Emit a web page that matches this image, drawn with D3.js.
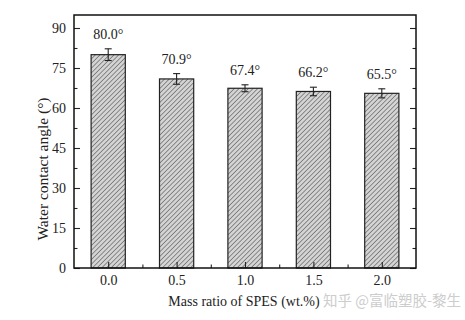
<!DOCTYPE html>
<html>
<head>
<meta charset="utf-8">
<script src="https://cdn.jsdelivr.net/npm/d3@7"></script>
<style>
  body { margin: 0; background: #fff; }
  svg { font-family: "Liberation Serif", "Times New Roman", serif; }
</style>
</head>
<body>
<div id="chart"></div>
<script>
const ratios = [0.0, 0.5, 1.0, 1.5, 2.0]
const angles = [80.0, 70.9, 67.4, 66.2, 65.5]
const errors = [2.2, 2.0, 1.3, 1.6, 1.7]
const labels = ["80.0°", "70.9°", "67.4°", "66.2°", "65.5°"]
const yTicks = [0, 15, 30, 45, 60, 75, 90]

const W = 465, H = 320
const margin = { top: 15, right: 49, bottom: 52, left: 74 }
const w = W - margin.left - margin.right
const h = H - margin.top - margin.bottom

const svg = d3.select("#chart").append("svg")
  .attr("width", W).attr("height", H)

// hatch pattern
const defs = svg.append("defs")
const pat = defs.append("pattern")
  .attr("id", "hatch")
  .attr("patternUnits", "userSpaceOnUse")
  .attr("width", 3.3).attr("height", 3.3)
  .attr("patternTransform", "rotate(45)")
pat.append("rect").attr("width", 3.3).attr("height", 3.3).attr("fill", "#d4d4d4")
pat.append("line").attr("x1", 0).attr("y1", 0).attr("x2", 0).attr("y2", 3.3)
  .attr("stroke", "#2a2a2a").attr("stroke-width", 0.9)

const g = svg.append("g").attr("transform", `translate(${margin.left},${margin.top})`)

const x = d3.scaleLinear().domain([-0.25, 2.25]).range([0, w])
const y = d3.scaleLinear().domain([0, 90 * (h / 240)]).range([h, 0])
const barW = x(0.25) - x(0)

// bars
g.selectAll(".bar").data(ratios).enter().append("rect")
  .attr("class", "bar")
  .attr("x", d => x(d) - barW / 2)
  .attr("width", barW)
  .attr("y", (d, i) => y(angles[i]))
  .attr("height", (d, i) => h - y(angles[i]))
  .attr("fill", "url(#hatch)")
  .attr("stroke", "#222").attr("stroke-width", 1.2)

// error bars
const eb = g.selectAll(".err").data(ratios).enter().append("g").attr("class", "err")
  .attr("stroke", "#222").attr("stroke-width", 1.1)
eb.append("line")
  .attr("x1", d => x(d)).attr("x2", d => x(d))
  .attr("y1", (d, i) => y(angles[i] + errors[i]))
  .attr("y2", (d, i) => y(angles[i] - errors[i]))
eb.append("line")
  .attr("x1", d => x(d) - 3.5).attr("x2", d => x(d) + 3.5)
  .attr("y1", (d, i) => y(angles[i] + errors[i]))
  .attr("y2", (d, i) => y(angles[i] + errors[i]))
eb.append("line")
  .attr("x1", d => x(d) - 3.5).attr("x2", d => x(d) + 3.5)
  .attr("y1", (d, i) => y(angles[i] - errors[i]))
  .attr("y2", (d, i) => y(angles[i] - errors[i]))

// value labels
g.selectAll(".lbl").data(ratios).enter().append("text")
  .attr("x", d => x(d))
  .attr("y", (d, i) => y(angles[i] + errors[i]) - 10)
  .attr("text-anchor", "middle")
  .attr("font-size", 14)
  .attr("fill", "#222")
  .text((d, i) => labels[i])

// axes
const yMinor = d3.range(7.5, 95, 15)
const xMinor = [0.25, 0.75, 1.25, 1.75]

const yAxis = d3.axisLeft(y).tickValues(yTicks).tickSizeInner(-6).tickSizeOuter(0).tickPadding(8)
const ya = g.append("g").call(yAxis)
ya.selectAll("text").attr("font-size", 14).attr("fill", "#222").style("font-family", "Liberation Serif")
g.append("g").call(d3.axisLeft(y).tickValues(yMinor).tickSizeInner(-3.5).tickSizeOuter(0).tickFormat(""))

const yAxisR = d3.axisRight(y).tickValues(yTicks).tickSizeInner(-6).tickSizeOuter(0).tickFormat("")
g.append("g").attr("transform", `translate(${w},0)`).call(yAxisR)
g.append("g").attr("transform", `translate(${w},0)`)
  .call(d3.axisRight(y).tickValues(yMinor).tickSizeInner(-3.5).tickSizeOuter(0).tickFormat(""))

const xAxis = d3.axisBottom(x).tickValues(ratios).tickSizeInner(-6).tickSizeOuter(0).tickPadding(7)
  .tickFormat(d3.format(".1f"))
const xa = g.append("g").attr("transform", `translate(0,${h})`).call(xAxis)
xa.selectAll("text").attr("font-size", 14).attr("fill", "#222").style("font-family", "Liberation Serif")
g.append("g").attr("transform", `translate(0,${h})`)
  .call(d3.axisBottom(x).tickValues(xMinor).tickSizeInner(-3.5).tickSizeOuter(0).tickFormat(""))

g.selectAll(".domain").remove()
g.selectAll(".tick line").attr("stroke", "#222").attr("stroke-width", 1.1)

// frame
g.append("rect").attr("width", w).attr("height", h)
  .attr("fill", "none").attr("stroke", "#111").attr("stroke-width", 1.5)

// titles
svg.append("text")
  .attr("transform", "translate(48,169) rotate(-90)")
  .attr("text-anchor", "middle")
  .attr("font-size", 15.5).attr("fill", "#222")
  .text("Water contact angle (°)")

svg.append("text")
  .attr("x", 244).attr("y", 306)
  .attr("text-anchor", "middle")
  .attr("font-size", 14).attr("fill", "#222")
  .text("Mass ratio of SPES (wt.%)")

svg.append("text")
  .attr("x", 323).attr("y", 306)
  .attr("font-size", 14.5).attr("fill", "#cdcdcd")
  .style("font-family", "Noto Sans CJK SC")
  .text("知乎 @富临塑胶-黎生")
</script>
</body>
</html>
